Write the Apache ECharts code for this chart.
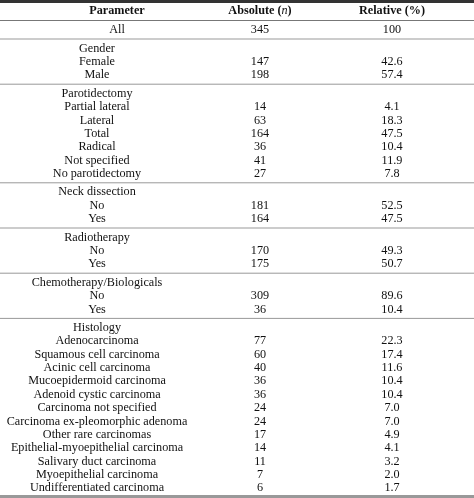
<!DOCTYPE html>
<html><head><meta charset="utf-8">
<script src="https://cdn.jsdelivr.net/npm/echarts@6/dist/echarts.min.js"></script>
<style>html,body{margin:0;padding:0;background:#fff}#c{width:474px;height:498px}</style>
</head><body><div id="c"></div>
<script>
const headers = ['Parameter', 'Absolute (n)', 'Relative (%)'];
const groupTitles = ['', 'Gender', 'Parotidectomy', 'Neck dissection', 'Radiotherapy', 'Chemotherapy/Biologicals', 'Histology'];
const groupRows = [
  ['All'],
  ['Female', 'Male'],
  ['Partial lateral', 'Lateral', 'Total', 'Radical', 'Not specified', 'No parotidectomy'],
  ['No', 'Yes'],
  ['No', 'Yes'],
  ['No', 'Yes'],
  ['Adenocarcinoma', 'Squamous cell carcinoma', 'Acinic cell carcinoma', 'Mucoepidermoid carcinoma', 'Adenoid cystic carcinoma', 'Carcinoma not specified', 'Carcinoma ex-pleomorphic adenoma', 'Other rare carcinomas', 'Epithelial-myoepithelial carcinoma', 'Salivary duct carcinoma', 'Myoepithelial carcinoma', 'Undifferentiated carcinoma']
];
const absoluteVals = [
  [345], [147, 198], [14, 63, 164, 36, 41, 27], [181, 164], [170, 175], [309, 36],
  [77, 60, 40, 36, 36, 24, 24, 17, 14, 11, 7, 6]
];
const relativeVals = [
  ['100'], ['42.6', '57.4'], ['4.1', '18.3', '47.5', '10.4', '11.9', '7.8'], ['52.5', '47.5'], ['49.3', '50.7'], ['89.6', '10.4'],
  ['22.3', '17.4', '11.6', '10.4', '10.4', '7.0', '7.0', '4.9', '4.1', '3.2', '2.0', '1.7']
];

const chart = echarts.init(document.getElementById('c'));
const FONT = 'Liberation Serif';
const FS = 12.2;
const step = 13.35;
const g = [];
const col = [97, 260, 392];
function txt(x, y, s, opt) {
  g.push({type: 'text', x: x, y: y, style: Object.assign({text: s, fontFamily: FONT, fontSize: FS, fill: '#111', align: 'center', verticalAlign: 'middle'}, opt || {})});
}
function line(y, w, c) {
  g.push({type: 'line', shape: {x1: 0, y1: y, x2: 474, y2: y}, style: {stroke: c, lineWidth: w}});
}
line(1.5, 3, '#333');
txt(117, 11, headers[0], {fontWeight: 'bold'});
g.push({type: 'text', x: col[1], y: 11, style: {text: '{b|Absolute (}{i|n}{b|)}', align: 'center', verticalAlign: 'middle',
  rich: {b: {fontFamily: FONT, fontSize: FS, fontWeight: 'bold', fill: '#111'}, i: {fontFamily: FONT, fontSize: FS, fontStyle: 'italic', fill: '#111'}}}});
txt(col[2], 11, headers[2], {fontWeight: 'bold'});
line(20.5, 1.2, '#777');
let y = 20.5;
groupRows.forEach((rows, gi) => {
  let ty = y + 9.5;
  if (groupTitles[gi]) { txt(col[0], ty, groupTitles[gi]); ty += step; }
  rows.forEach((r, ri) => {
    txt(gi === 0 ? 117 : col[0], ty, r);
    txt(col[1], ty, String(absoluteVals[gi][ri]));
    txt(col[2], ty, relativeVals[gi][ri]);
    ty += step;
  });
  y = ty - step + 9;
  if (gi < groupRows.length - 1) line(y, 1, '#999');
});
line(496.5, 3, '#999');
chart.setOption({animation: false, graphic: g});
</script></body></html>
